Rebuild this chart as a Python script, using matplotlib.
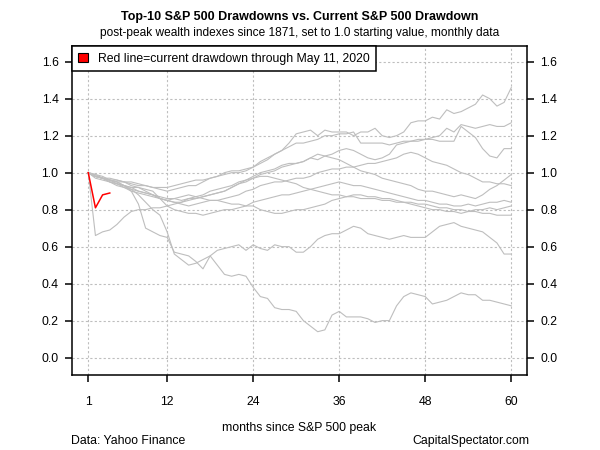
import matplotlib
matplotlib.use("Agg")
import matplotlib.pyplot as plt
from matplotlib.patches import Patch

plt.rcParams['font.family'] = ['Liberation Sans', 'DejaVu Sans']

months = list(range(1, 61))

# ten past drawdowns, wealth index set to 1.0 at the peak
past = [
    [1.00, 0.98, 0.97, 0.97, 0.96, 0.95, 0.95, 0.94, 0.93, 0.92,
     0.91, 0.90, 0.91, 0.92, 0.93, 0.93, 0.95, 0.97, 0.98, 1.00,
     1.01, 1.01, 1.02, 1.03, 1.06, 1.08, 1.10, 1.12, 1.16, 1.21,
     1.22, 1.23, 1.20, 1.23, 1.22, 1.22, 1.22, 1.20, 1.22, 1.22,
     1.24, 1.20, 1.19, 1.20, 1.22, 1.27, 1.28, 1.28, 1.30, 1.29,
     1.34, 1.32, 1.33, 1.35, 1.37, 1.42, 1.40, 1.36, 1.38, 1.46],
    [1.00, 0.99, 0.98, 0.96, 0.95, 0.95, 0.94, 0.93, 0.93, 0.92,
     0.92, 0.92, 0.93, 0.94, 0.95, 0.96, 0.96, 0.97, 0.98, 0.99,
     1.00, 1.00, 1.01, 1.03, 1.05, 1.07, 1.10, 1.12, 1.14, 1.16,
     1.16, 1.17, 1.18, 1.20, 1.20, 1.21, 1.21, 1.22, 1.16, 1.16,
     1.16, 1.16, 1.15, 1.16, 1.17, 1.17, 1.18, 1.18, 1.19, 1.20,
     1.24, 1.22, 1.26, 1.25, 1.24, 1.25, 1.26, 1.25, 1.25, 1.27],
    [1.00, 0.99, 0.97, 0.96, 0.94, 0.93, 0.92, 0.90, 0.89, 0.88,
     0.87, 0.86, 0.86, 0.85, 0.86, 0.87, 0.88, 0.90, 0.91, 0.92,
     0.93, 0.95, 0.96, 0.97, 0.99, 1.00, 1.01, 1.03, 1.04, 1.05,
     1.06, 1.08, 1.07, 1.09, 1.10, 1.12, 1.13, 1.12, 1.10, 1.08,
     1.07, 1.08, 1.10, 1.15, 1.16, 1.17, 1.17, 1.18, 1.18, 1.17,
     1.17, 1.17, 1.25, 1.22, 1.19, 1.13, 1.09, 1.08, 1.13, 1.13],
    [1.00, 0.98, 0.97, 0.95, 0.93, 0.92, 0.90, 0.89, 0.88, 0.87,
     0.86, 0.85, 0.84, 0.84, 0.85, 0.86, 0.87, 0.88, 0.89, 0.90,
     0.92, 0.94, 0.96, 0.98, 1.00, 1.01, 1.02, 1.04, 1.05, 1.05,
     1.06, 1.08, 1.10, 1.09, 1.08, 1.07, 1.05, 1.03, 1.01, 1.00,
     0.99, 0.97, 0.96, 0.95, 0.94, 0.93, 0.91, 0.90, 0.90, 0.89,
     0.88, 0.87, 0.88, 0.87, 0.86, 0.88, 0.91, 0.93, 0.96, 0.99],
    [1.00, 0.97, 0.96, 0.95, 0.94, 0.92, 0.91, 0.90, 0.89, 0.88,
     0.86, 0.85, 0.84, 0.83, 0.82, 0.83, 0.84, 0.85, 0.85, 0.86,
     0.87, 0.88, 0.90, 0.91, 0.93, 0.94, 0.95, 0.95, 0.96, 0.97,
     0.97, 0.98, 1.00, 1.01, 1.02, 1.02, 1.03, 1.03, 1.04, 1.05,
     1.05, 1.06, 1.07, 1.08, 1.10, 1.11, 1.10, 1.08, 1.06, 1.05,
     1.04, 1.02, 1.00, 0.99, 0.97, 0.95, 0.95, 0.94, 0.94, 0.93],
    [1.00, 0.98, 0.97, 0.96, 0.96, 0.95, 0.93, 0.92, 0.91, 0.90,
     0.86, 0.82, 0.80, 0.79, 0.78, 0.78, 0.77, 0.78, 0.79, 0.80,
     0.80, 0.81, 0.82, 0.84, 0.85, 0.86, 0.87, 0.88, 0.88, 0.89,
     0.90, 0.91, 0.92, 0.93, 0.94, 0.95, 0.94, 0.93, 0.93, 0.92,
     0.91, 0.90, 0.89, 0.88, 0.87, 0.86, 0.85, 0.85, 0.84, 0.83,
     0.83, 0.82, 0.82, 0.83, 0.82, 0.83, 0.84, 0.84, 0.85, 0.84],
    [1.00, 0.98, 0.97, 0.95, 0.94, 0.93, 0.92, 0.92, 0.90, 0.88,
     0.86, 0.85, 0.86, 0.87, 0.88, 0.87, 0.86, 0.85, 0.85, 0.84,
     0.83, 0.83, 0.82, 0.82, 0.80, 0.79, 0.78, 0.78, 0.79, 0.80,
     0.80, 0.81, 0.82, 0.83, 0.85, 0.86, 0.87, 0.88, 0.88, 0.87,
     0.87, 0.86, 0.86, 0.85, 0.84, 0.83, 0.82, 0.81, 0.80, 0.80,
     0.79, 0.79, 0.78, 0.79, 0.80, 0.80, 0.81, 0.80, 0.81, 0.82],
    [1.00, 0.66, 0.68, 0.69, 0.72, 0.76, 0.79, 0.80, 0.80, 0.81,
     0.81, 0.82, 0.83, 0.84, 0.86, 0.86, 0.87, 0.88, 0.89, 0.90,
     0.92, 0.94, 0.95, 0.97, 0.98, 0.98, 0.97, 0.96, 0.95, 0.94,
     0.92, 0.91, 0.90, 0.89, 0.88, 0.88, 0.87, 0.87, 0.86, 0.86,
     0.86, 0.85, 0.85, 0.84, 0.84, 0.84, 0.83, 0.83, 0.82, 0.81,
     0.81, 0.80, 0.80, 0.79, 0.79, 0.78, 0.78, 0.77, 0.77, 0.77],
    [1.00, 0.98, 0.97, 0.96, 0.95, 0.93, 0.91, 0.88, 0.84, 0.80,
     0.77, 0.68, 0.56, 0.53, 0.50, 0.51, 0.53, 0.55, 0.58, 0.59,
     0.60, 0.61, 0.58, 0.61, 0.59, 0.58, 0.61, 0.60, 0.60, 0.57,
     0.57, 0.60, 0.64, 0.66, 0.67, 0.67, 0.69, 0.71, 0.70, 0.67,
     0.66, 0.65, 0.64, 0.65, 0.66, 0.65, 0.65, 0.65, 0.68, 0.71,
     0.72, 0.73, 0.71, 0.70, 0.69, 0.68, 0.65, 0.62, 0.56, 0.56],
    [1.00, 0.98, 0.97, 0.96, 0.95, 0.93, 0.90, 0.83, 0.70, 0.68,
     0.66, 0.65, 0.57, 0.56, 0.55, 0.52, 0.48, 0.55, 0.50, 0.45,
     0.44, 0.45, 0.44, 0.38, 0.33, 0.32, 0.27, 0.26, 0.26, 0.25,
     0.20, 0.17, 0.14, 0.15, 0.23, 0.25, 0.22, 0.22, 0.22, 0.21,
     0.19, 0.20, 0.20, 0.28, 0.33, 0.35, 0.34, 0.33, 0.29, 0.30,
     0.31, 0.33, 0.35, 0.34, 0.34, 0.31, 0.31, 0.30, 0.29, 0.28],
]

# current drawdown, Feb 2020 peak through May 11, 2020
current = [1.00, 0.81, 0.88, 0.89]

x_ticks = [1, 12, 24, 36, 48, 60]
y_ticks = [0.0, 0.2, 0.4, 0.6, 0.8, 1.0, 1.2, 1.4, 1.6]

fs = 8.8

fig = plt.figure(figsize=(6, 4.5), dpi=100)
ax = fig.add_axes([0.1195, 0.1667, 0.7588, 0.7311])

for s in past:
    ax.plot(months, s, color='#BEBEBE', lw=0.8, zorder=2)
ax.plot(months[:len(current)], current, color='red', lw=1.1, zorder=3)

ax.set_xlim(-1.31, 62.19)
ax.set_ylim(-0.094, 1.685)
ax.set_xticks(x_ticks)
ax.set_yticks(y_ticks)
ax.set_yticklabels(['%.1f' % v for v in y_ticks])
ax.grid(True, color='#BEBEBE', ls=(0, (2, 2)), lw=0.8, zorder=1)

for sp in ax.spines.values():
    sp.set_linewidth(1.1)
    sp.set_color('black')
ax.tick_params(axis='both', direction='out', length=5, width=1.1,
               labelsize=fs, colors='black')
ax.tick_params(axis='x', pad=10)
ax.tick_params(axis='y', right=True, labelright=True, pad=4.5)

ax.set_xlabel('months since S&P 500 peak', fontsize=fs, labelpad=10)

fig.text(0.5, 0.963, 'Top-10 S&P 500 Drawdowns vs. Current S&P 500 Drawdown',
         ha='center', va='center', fontsize=9, fontweight='bold')
fig.text(0.5, 0.926, 'post-peak wealth indexes since 1871, set to 1.0 starting value, monthly data',
         ha='center', va='center', fontsize=8.6)
fig.text(0.118, 0.021, 'Data: Yahoo Finance', ha='left', va='center', fontsize=fs)
fig.text(0.883, 0.021, 'CapitalSpectator.com', ha='right', va='center', fontsize=fs)

h = [Patch(facecolor='red', edgecolor='black', lw=0.8)]
leg = ax.legend(h, ['Red line=current drawdown through May 11, 2020'],
                loc='upper left', bbox_to_anchor=(0, 1), borderaxespad=0,
                fancybox=False, framealpha=1, fontsize=fs,
                handlelength=0.8, handleheight=0.8, handletextpad=0.8,
                borderpad=0.55)
leg.get_frame().set_edgecolor('black')
leg.get_frame().set_linewidth(1.1)

fig.savefig('out.png', dpi=100)
